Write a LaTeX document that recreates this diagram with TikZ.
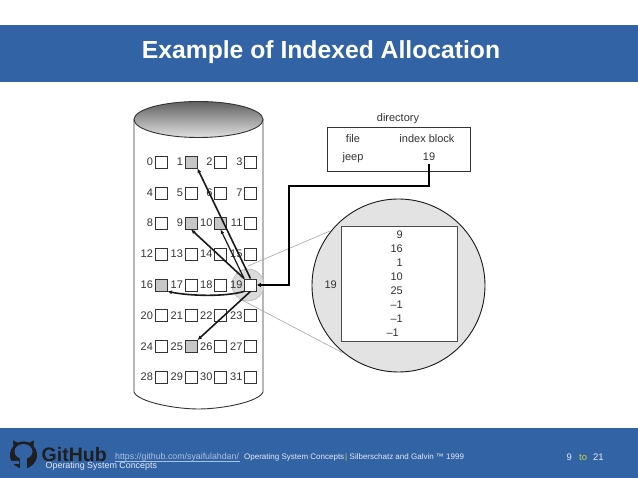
\documentclass[tikz,border=0pt]{standalone}
\usepackage{fontspec}
\setmainfont{Liberation Sans}
\usetikzlibrary{arrows.meta}
\definecolor{barblue}{HTML}{3264A5}
\definecolor{linkblue}{HTML}{A9C1E2}
\definecolor{footlight}{HTML}{E4EAF3}
\definecolor{accent}{HTML}{C8D24A}
\definecolor{inkgrey}{HTML}{333333}
\tikzset{
  x=1pt,y=-1pt,
  bar/.style={fill=barblue,draw=none},
  blockbox/.style={draw=inkgrey,line width=0.8pt,minimum size=12pt,inner sep=0pt,fill=white},
  usedblock/.style={blockbox,fill=black!22},
  blocknum/.style={anchor=east,inner sep=0pt,font=\fontsize{11}{12}\selectfont,text=inkgrey},
  dtext/.style={inner sep=0pt,anchor=base,font=\fontsize{11}{12}\selectfont,text=inkgrey},
  listnum/.style={anchor=east,inner sep=0pt,font=\fontsize{11}{12}\selectfont,text=inkgrey},
  ptr/.style={line width=1.6pt,black!90,-{Latex[length=4.5pt,width=4pt]}},
  guide/.style={draw=black!35,line width=0.6pt},
  foot/.style={inner sep=0pt,anchor=base west,font=\fontsize{8}{10}\selectfont,text=footlight},
  pagenum/.style={foot,font=\fontsize{9.5}{11}\selectfont},
}
\begin{document}
\begin{tikzpicture}
\useasboundingbox (0,0) rectangle (638,478);
\fill[white] (0,0) rectangle (638,478);
% bars
\fill[bar] (0,25) rectangle (638,82);
\fill[bar] (0,428) rectangle (638,478);
\node[text=white,inner sep=0pt,font=\bfseries\fontsize{24.7}{28}\selectfont] (title) at (321,52) {Example of Indexed Allocation};
% cylinder
\draw[inkgrey,line width=0.9pt,fill=white] (134,119) -- (134,392) .. controls (138,402) and (175,409) .. (198.5,409) .. controls (222,409) and (259,402) .. (263,392) -- (263,119);
\draw[inkgrey,line width=0.9pt,top color=black!62,bottom color=black!12] (198.5,119.5) ellipse [x radius=64.5,y radius=18];
% magnifier of block 19
\fill[black!14] (248,285) circle [radius=16];
\draw[black!28,line width=0.6pt] (248,285) circle [radius=16];
% blocks
\foreach \n/\cx/\cy/\sty in {
 0/161/162/blockbox,1/191/162/usedblock,2/220.5/162/blockbox,3/250.5/162/blockbox,
 4/161/193/blockbox,5/191/193/blockbox,6/220.5/193/blockbox,7/250.5/193/blockbox,
 8/161/223/blockbox,9/191/223/usedblock,10/220.5/223/usedblock,11/250.5/223/blockbox,
 12/161/254/blockbox,13/191/254/blockbox,14/220.5/254/blockbox,15/250.5/254/blockbox,
 16/161/285/usedblock,17/191/285/blockbox,18/220.5/285/blockbox,19/250.5/285/blockbox,
 20/161/315.5/blockbox,21/191/315.5/blockbox,22/220.5/315.5/blockbox,23/250.5/315.5/blockbox,
 24/161/346.5/blockbox,25/191/346.5/usedblock,26/220.5/346.5/blockbox,27/250.5/346.5/blockbox,
 28/161/377/blockbox,29/191/377/blockbox,30/220.5/377/blockbox,31/250.5/377/blockbox}{
  \node[\sty] (b\n) at (\cx,\cy) {};
  \node[blocknum] (l\n) at ([xshift=-1.5pt]b\n.west) {\n};
}
% big circle
\node[draw=black!90,line width=0.9pt,fill=black!11,circle,minimum size=173pt,inner sep=0pt] (zoomc) at (398.5,285.5) {};
\node[draw=black!70,line width=1pt,fill=white,minimum width=116pt,minimum height=115pt,inner sep=0pt] (ixbox) at (399,284.5) {};
\coordinate (gA) at (248,266);
\coordinate (gB) at (330,231);
\coordinate (gC) at (240,299);
\coordinate (gD) at (343,353);
\draw[guide] (gA) -- (gB);
\draw[guide] (gC) -- (gD);
% block pointers
\draw[ptr] (b19.north) -- (b1.south east);
\draw[ptr] (b19.north west) -- (b9.south);
\draw[ptr,line width=1.2pt] (b19.north west) -- (b10.south);
\draw[ptr] (b19.south west) .. controls (225,297) and (190,296) .. (b16.south east);
\draw[ptr] (b19.south) -- (b25.north east);
% directory
\node[draw=inkgrey,line width=0.9pt,minimum width=143pt,minimum height=44pt,inner sep=0pt] (dir) at (398.5,149) {};
\node[dtext] (dirt) at (398,122) {directory};
\node[dtext] (fil) at (353,143) {file};
\node[dtext] (ib) at (427,143) {index block};
\node[dtext] (jeep) at (353,160.5) {jeep};
\node[dtext] (idx) at (429,160.5) {19};
\coordinate (c1) at (429,186);
\coordinate (c2) at (289,186);
\draw[line width=1.8pt,black,-{Latex[length=4pt,width=4.5pt]},line join=miter] (idx.south) ++(0,3) -- (c1) -- (c2) -- (c2 |- b19.east) -- (b19.east);
% index list
\foreach \nm/\v/\yy/\xx in {a/9/235/403,b/16/249/403,c/1/263/403,d/10/277/403,e/25/291/403,f/–1/305/403,g/–1/319/403,h/–1/333/399}{
  \node[listnum] (i\nm) at (\xx,\yy) {\v};
}
\node[listnum] (i19) at (337,285) {19};
% footer logo
\fill[black!88] (23.5,455) circle [radius=13.5];
\fill[black!88] (13.5,446) -- (13,440.5) -- (19,443.5) -- cycle;
\fill[black!88] (33.5,446) -- (34,440.5) -- (28,443.5) -- cycle;
\fill[barblue] (23.5,451.5) ellipse [x radius=9,y radius=7.5];
\fill[barblue] (20,457) rectangle (27,468.6);
\fill[barblue] (10,461) -- (19,461) -- (19,464) -- (12,464) -- cycle;
\node[inner sep=0pt,anchor=base west,text=black!88,font=\bfseries\fontsize{19.5}{24}\selectfont] (gh) at (41.5,461.5) {GitHub};
\node[foot,text=linkblue,font=\fontsize{8.8}{10}\selectfont] (url) at (115,460) {https://github.com/syaifulahdan/};
\draw[linkblue,line width=0.4pt] (url.base west) ++(0,1.5) -- ++(125,0);
\node[foot] (osc) at (244,459.5) {Operating System Concepts};
\node[foot,text=accent] (sep) at (345,459.5) {|};
\node[foot] (auth) at (349.5,459.5) {Silberschatz and Galvin ™ 1999};
\node[foot,font=\fontsize{8.9}{11}\selectfont] (osc2) at (45.5,468.5) {Operating System Concepts};
\node[pagenum] (p1) at (566.5,460.5) {9};
\node[pagenum,text=accent] (pto) at (579,460.5) {to};
\node[pagenum] (p2) at (593,460.5) {21};
\end{tikzpicture}
\end{document}
